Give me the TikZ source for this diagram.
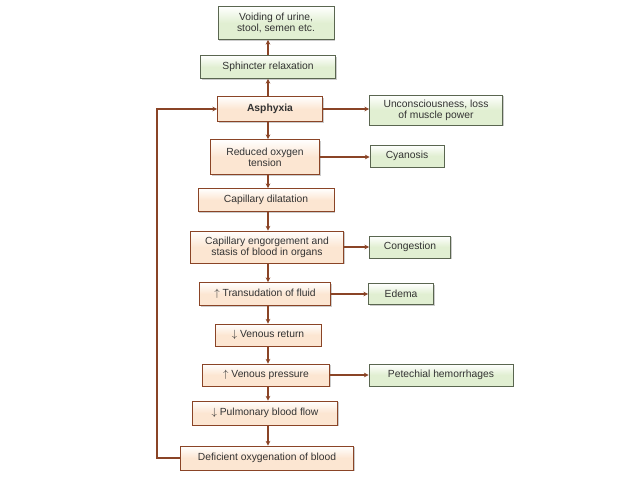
\documentclass[tikz,border=0pt]{standalone}
\usepackage{fontspec}
\setmainfont{Liberation Sans}
\usetikzlibrary{arrows.meta,shadows}
\definecolor{brn}{HTML}{8A4426}
\definecolor{ofill}{HTML}{FCE6D2}
\definecolor{gfill}{HTML}{E1EFD2}
\definecolor{gdraw}{HTML}{5A6650}
\tikzset{
 base/.style={font=\fontsize{8.8}{9.5}\selectfont, align=center, inner sep=1pt, text=black!80, drop shadow={shadow xshift=1pt,shadow yshift=-1pt,opacity=0.4}},
 obox/.style={base, draw=brn, line width=0.8pt, top color=white, bottom color=ofill, middle color=ofill},
 gbox/.style={base, draw=gdraw, line width=0.8pt, top color=white, bottom color=gfill, middle color=gfill},
 arr/.style={draw=brn, line width=1pt, -{Stealth[length=4pt,width=4pt]}}
}
\begin{document}
\begin{tikzpicture}[x=0.03cm,y=-0.03cm]
\useasboundingbox (0,0) rectangle (638,478);
\newcommand{\bx}[6]{\node[#1, minimum width=#4*0.03cm, minimum height=#5*0.03cm] (#2) at #3 {#6};}
\bx{gbox}{void}{(276,23)}{116}{33}{Voiding of urine,\\stool, semen etc.}
\bx{gbox}{sph}{(268,67)}{135}{23}{Sphincter relaxation}
\bx{obox}{asp}{(270,109)}{105}{25}{\textbf{Asphyxia}}
\bx{gbox}{unc}{(436,110)}{133}{30}{Unconsciousness, loss\\of muscle power}
\bx{obox}{red}{(265,157)}{109}{35}{Reduced oxygen\\tension}
\bx{gbox}{cya}{(407,156)}{74}{22}{Cyanosis}
\bx{obox}{dil}{(266,200)}{136}{23}{Capillary dilatation}
\bx{obox}{eng}{(267,247)}{153}{32}{Capillary engorgement and\\stasis of blood in organs}
\bx{gbox}{con}{(410,247)}{81}{22}{Congestion}
\bx{obox}{tra}{(265,294)}{131}{23}{$\uparrow$ Transudation of fluid}
\bx{gbox}{ede}{(401,294)}{65}{21}{Edema}
\bx{obox}{vr}{(268,335)}{106}{22}{$\downarrow$ Venous return}
\bx{obox}{vp}{(266,375)}{127}{22}{$\uparrow$ Venous pressure}
\bx{gbox}{pet}{(441,375)}{144}{22}{Petechial hemorrhages}
\bx{obox}{pul}{(265,413)}{145}{24}{$\downarrow$ Pulmonary blood flow}
\bx{obox}{def}{(267,458)}{173}{24}{Deficient oxygenation of blood}
\draw[arr] (sph.north -| 268,0) -- (void.south -| 268,0);
\draw[arr] (asp.north -| 268,0) -- (sph.south -| 268,0);
\draw[arr] (asp.south -| 268,0) -- (red.north -| 268,0);
\draw[arr] (red.south -| 268,0) -- (dil.north -| 268,0);
\draw[arr] (dil.south -| 268,0) -- (eng.north -| 268,0);
\draw[arr] (eng.south -| 268,0) -- (tra.north -| 268,0);
\draw[arr] (tra.south -| 268,0) -- (vr.north -| 268,0);
\draw[arr] (vr.south -| 268,0) -- (vp.north -| 268,0);
\draw[arr] (vp.south -| 268,0) -- (pul.north -| 268,0);
\draw[arr] (pul.south -| 268,0) -- (def.north -| 268,0);
\draw[arr] (asp.east) -- (unc.west |- asp.east);
\draw[arr] (red.east) -- (cya.west |- red.east);
\draw[arr] (eng.east) -- (con.west |- eng.east);
\draw[arr] (tra.east) -- (ede.west |- tra.east);
\draw[arr] (vp.east) -- (pet.west |- vp.east);
\coordinate (c1) at (157,458);
\coordinate (c2) at (157,109);
\draw[arr] (def.west) -- (c1) -- (c2) -- (asp.west);
\end{tikzpicture}
\end{document}
